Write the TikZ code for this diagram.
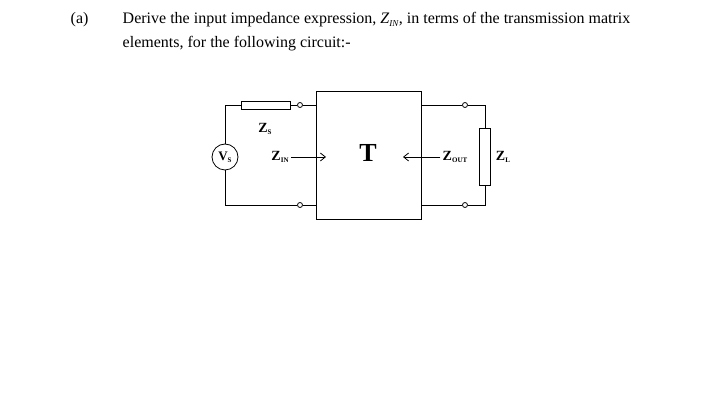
\documentclass[tikz,border=0pt]{standalone}
\usepackage{fontspec}
\setmainfont{Liberation Serif}
\usetikzlibrary{arrows.meta}
\begin{document}
\begin{tikzpicture}[x=1pt,y=-1pt,line width=0.8pt,
  term/.style={circle,draw,inner sep=0pt,minimum size=5pt,fill=white},
  res/.style={draw,fill=white,inner sep=0pt},
  lbl/.style={font=\bfseries\fontsize{14}{14}\selectfont,inner sep=0pt},
  arr/.style={-{Straight Barb[length=5pt,width=8pt]},line width=0.8pt}]
\useasboundingbox (0,0) rectangle (716,403);
\node[anchor=west,font=\fontsize{16}{17}\selectfont] (a) at (67,20) {(a)};
\node[anchor=west,font=\fontsize{16}{17}\selectfont] (l1) at (119,20) {Derive the input impedance expression, \textit{Z}\raisebox{-0.4ex}{\fontsize{9}{9}\selectfont\textit{IN}}, in terms of the transmission matrix};
\node[anchor=west,font=\fontsize{16}{17}\selectfont] (l2) at (119,44) {elements, for the following circuit:-};
\node[draw,minimum width=105pt,minimum height=128pt,inner sep=0pt] (T) at (368.5,155) {};
\node[font=\bfseries\fontsize{26}{26}\selectfont] (Tl) at (368,153) {T};
\node[circle,draw,minimum size=26pt,inner sep=0pt] (V) at (225,157) {\bfseries\fontsize{13}{13}\selectfont V\raisebox{-0.4ex}{\fontsize{7}{7}\selectfont S}};
\node[res,minimum width=49pt,minimum height=8pt] (Zs) at (265.5,105) {};
\node[term] (t1) at (300,105) {};
\node[term] (t2) at (300,205) {};
\node[term] (t3) at (465,105) {};
\node[term] (t4) at (465,205) {};
\node[res,minimum width=11pt,minimum height=57pt] (ZL) at (485,156.5) {};
\coordinate (c1) at (225,105);
\coordinate (c2) at (225,205);
\coordinate (c3) at (485,105);
\coordinate (c4) at (485,205);
\draw (V.north) -- (c1) -- (Zs.west);
\draw (Zs.east) -- (t1.west);
\draw (t1.east) -- (T.west |- t1);
\draw (V.south) -- (c2) -- (t2.west);
\draw (t2.east) -- (T.west |- t2);
\draw (T.east |- t3) -- (t3.west);
\draw (t3.east) -- (c3) -- (ZL.north);
\draw (T.east |- t4) -- (t4.west);
\draw (t4.east) -- (c4) -- (ZL.south);
\node[lbl] (zsl) at (265,129) {Z\raisebox{-0.4ex}{\fontsize{7}{7}\selectfont S}};
\node[lbl] (zin) at (280,157) {Z\raisebox{-0.4ex}{\fontsize{7}{7}\selectfont IN}};
\node[lbl] (zout) at (455,157) {Z\raisebox{-0.4ex}{\fontsize{7}{7}\selectfont OUT}};
\node[lbl] (zl) at (503,157) {Z\raisebox{-0.4ex}{\fontsize{7}{7}\selectfont L}};
\draw[arr] (zin.east) ++(2,0) -- (326,157);
\draw[arr] (zout.west) ++(-2,0) -- (403,157);
\end{tikzpicture}
\end{document}
